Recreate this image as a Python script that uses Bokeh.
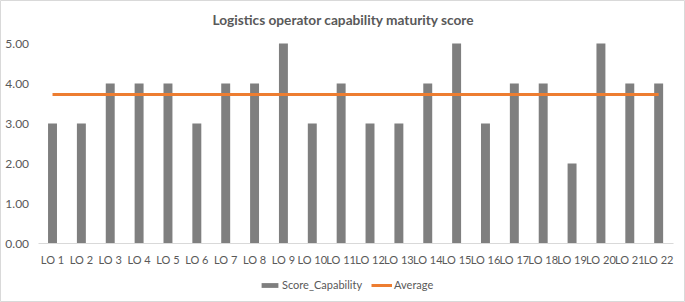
from bokeh.plotting import figure
from bokeh.models import (ColumnDataSource, Range1d, Label, Legend, LegendItem,
                          NumeralTickFormatter, FixedTicker)
from bokeh.embed import file_html
from bokeh.resources import INLINE

categories = [f"LO {i}" for i in range(1, 23)]
scores = [3, 3, 4, 4, 4, 3, 4, 4, 5, 3, 4, 3, 3, 4, 5, 3, 4, 4, 2, 5, 4, 4]
average_value = sum(scores) / len(scores)
averages = [average_value] * len(categories)
y_ticks = [0, 1, 2, 3, 4, 5]
title_text = "Logistics operator capability maturity score"

FONT = "Lato"
TXT = "#595959"

xpos = list(range(1, len(categories) + 1))
src = ColumnDataSource(dict(x=xpos, score=scores, avg=averages))

p = figure(width=685, height=302, x_range=Range1d(-0.802, 22.93),
           y_range=Range1d(-1.475, 6.075), output_backend="svg", toolbar_location=None,
           min_border=0, min_border_left=0, min_border_right=0, min_border_top=0,
           min_border_bottom=0)
p.outline_line_color = "#d9d9d9"
p.background_fill_color = "white"
p.border_fill_color = "white"
p.grid.grid_line_color = None

bars = p.vbar(x="x", top="score", width=0.31, source=src, fill_color="#7f7f7f", line_color=None)
line = p.line(x="x", y="avg", source=src, line_color="#ed7d31", line_width=3)

p.yaxis.fixed_location = 0.5
p.yaxis.bounds = (0, 5)
p.yaxis.ticker = FixedTicker(ticks=y_ticks)
p.yaxis.formatter = NumeralTickFormatter(format="0.00")
p.yaxis.axis_line_color = None
p.yaxis.major_tick_line_color = None
p.yaxis.minor_tick_line_color = None
p.yaxis.major_label_text_color = TXT
p.yaxis.major_label_text_font = FONT
p.yaxis.major_label_text_font_size = "12px"
p.yaxis.major_label_standoff = 3

p.xaxis.fixed_location = 0
p.xaxis.bounds = (0.5, len(categories) + 0.5)
p.xaxis.ticker = FixedTicker(ticks=xpos)
p.xaxis.major_label_overrides = {i: c for i, c in zip(xpos, categories)}
p.xaxis.axis_line_color = "#d9d9d9"
p.xaxis.major_tick_line_color = None
p.xaxis.minor_tick_line_color = None
p.xaxis.major_label_text_color = TXT
p.xaxis.major_label_text_font = FONT
p.xaxis.major_label_text_font_size = "11px"
p.xaxis.major_label_standoff = 3

title = Label(x=343, y=283, x_units="screen", y_units="screen", text=title_text,
              text_font=FONT, text_font_size="13.7px", text_font_style="bold",
              text_color=TXT, text_align="center", text_baseline="middle")

legend = Legend(items=[LegendItem(label="Score_Capability", renderers=[bars]),
                       LegendItem(label="Average", renderers=[line])],
                orientation="horizontal", location=(259, 11), border_line_color=None,
                background_fill_alpha=0, label_text_font=FONT, label_text_font_size="11px",
                label_text_color=TXT, glyph_width=21, glyph_height=6, spacing=9,
                padding=0, margin=0, label_standoff=2, label_height=12)
p.add_layout(legend)
p.add_layout(title)

open("out.html", "w").write(file_html(p, INLINE))
